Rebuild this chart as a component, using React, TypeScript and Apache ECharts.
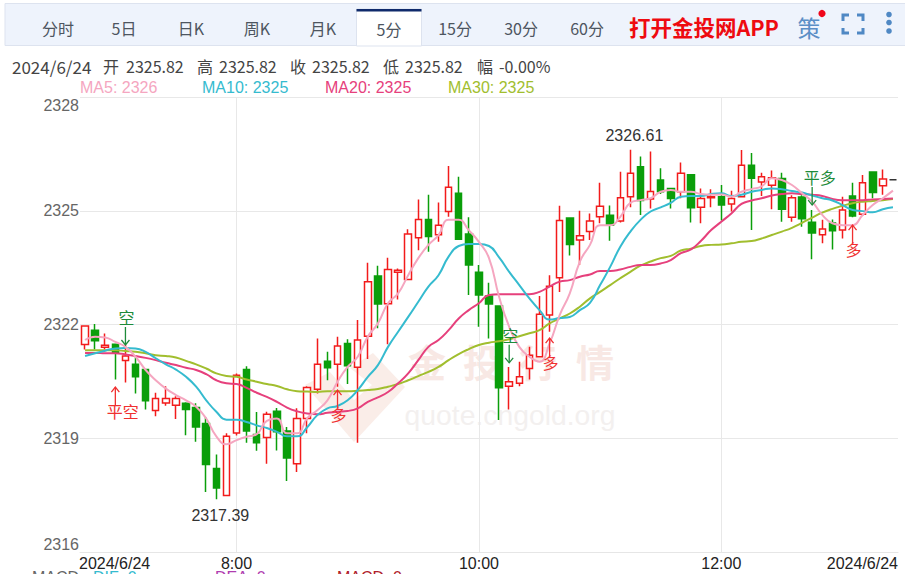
import React, { useEffect, useRef } from "react";
import * as echarts from "echarts";

const categories = [
  "6:45","6:50","6:55","7:00","7:05","7:10","7:15","7:20","7:25","7:30","7:35","7:40","7:45","7:50","7:55",
  "8:00","8:05","8:10","8:15","8:20","8:25","8:30","8:35","8:40","8:45","8:50","8:55","9:00","9:05","9:10","9:15","9:20","9:25","9:30","9:35","9:40","9:45","9:50","9:55",
  "10:00","10:05","10:10","10:15","10:20","10:25","10:30","10:35","10:40","10:45","10:50","10:55","11:00","11:05","11:10","11:15","11:20","11:25","11:30","11:35","11:40","11:45","11:50","11:55",
  "12:00","12:05","12:10","12:15","12:20","12:25","12:30","12:35","12:40","12:45","12:50","12:55","13:00","13:05","13:10","13:15","13:20","13:25",
];
const xTickLabels = ["8:00", "10:00", "12:00"];
const dateLabel = "2024/6/24";

// open, close, low, high
const candles = [
  [2321.47,2321.96,2321.34,2321.98],[2321.85,2321.57,2321.34,2322.01],[2321.40,2321.45,2321.34,2321.76],[2321.48,2321.25,2320.55,2321.50],
  [2321.05,2321.17,2320.47,2321.46],[2320.95,2320.62,2320.18,2321.15],[2320.81,2319.99,2319.76,2320.81],[2319.73,2320.05,2319.58,2320.20],
  [2319.93,2320.05,2319.86,2320.37],[2319.87,2320.05,2319.51,2320.11],[2319.92,2319.76,2319.08,2319.95],[2319.81,2319.30,2318.91,2319.92],
  [2319.39,2318.31,2317.58,2319.56],[2318.20,2317.69,2317.39,2318.57],[2317.49,2319.05,2317.49,2319.13],[2319.14,2320.66,2319.07,2320.71],
  [2320.81,2319.19,2318.88,2320.90],[2319.10,2318.88,2318.67,2319.69],[2319.02,2319.63,2318.33,2319.70],[2319.71,2319.17,2318.68,2319.80],
  [2319.19,2318.48,2317.87,2319.30],[2318.33,2319.52,2318.11,2319.79],[2319.52,2320.34,2319.13,2320.37],[2320.29,2320.95,2320.18,2321.63],
  [2321.03,2320.86,2320.53,2321.28],[2320.95,2321.43,2320.36,2321.68],[2321.50,2320.91,2320.43,2321.61],[2320.87,2321.59,2318.88,2322.12],
  [2321.69,2323.13,2321.09,2323.63],[2323.28,2322.54,2321.90,2323.55],[2322.55,2323.45,2321.48,2323.76],[2323.38,2323.43,2322.66,2323.48],
  [2323.19,2324.39,2323.19,2324.51],[2324.29,2324.77,2323.96,2325.30],[2324.77,2324.32,2323.92,2325.42],[2324.37,2324.62,2324.18,2325.22],
  [2324.98,2325.62,2324.84,2326.18],[2325.46,2324.25,2324.25,2325.90],[2324.39,2323.57,2322.78,2324.83],[2323.38,2322.78,2321.94,2323.57],
  [2322.75,2322.54,2321.63,2323.10],[2322.49,2320.33,2319.48,2322.49],[2320.37,2320.49,2319.76,2320.88],[2320.45,2320.62,2320.37,2321.02],
  [2320.84,2321.19,2320.55,2321.41],[2321.15,2322.27,2321.15,2322.75],[2322.25,2323.01,2321.81,2323.30],[2323.23,2324.74,2322.86,2325.13],
  [2324.81,2324.11,2323.82,2324.81],[2324.23,2324.34,2323.57,2325.00],[2324.45,2324.73,2324.23,2324.93],[2324.84,2325.12,2324.67,2325.74],
  [2324.88,2324.62,2324.21,2325.14],[2324.73,2325.34,2324.69,2326.03],[2325.37,2325.99,2325.09,2326.61],[2326.16,2325.27,2324.89,2326.43],
  [2325.31,2325.51,2325.06,2326.56],[2325.81,2325.50,2325.44,2326.12],[2325.59,2325.32,2325.06,2325.59],[2325.50,2325.99,2325.33,2326.27],
  [2325.95,2325.08,2324.69,2325.95],[2325.09,2325.32,2324.67,2325.59],[2325.34,2325.37,2325.09,2325.57],[2325.37,2325.15,2324.74,2325.68],
  [2325.18,2325.32,2324.98,2325.53],[2325.37,2326.20,2325.37,2326.60],[2326.20,2325.86,2324.49,2326.52],[2325.76,2325.90,2325.39,2326.00],
  [2325.67,2325.87,2325.04,2326.06],[2325.85,2325.04,2324.71,2326.00],[2324.83,2325.34,2324.71,2325.41],[2325.36,2324.79,2324.58,2325.41],
  [2324.70,2324.41,2323.72,2325.02],[2324.37,2324.52,2324.14,2324.76],[2324.68,2324.47,2323.98,2324.77],[2324.49,2325.02,2324.27,2325.37],
  [2325.39,2324.86,2324.83,2325.74],[2324.91,2325.74,2324.86,2325.94],[2326.02,2325.48,2325.33,2326.02],[2325.66,2325.84,2325.42,2326.09],
  [2325.82,2325.82,2325.82,2325.82],
];

const ma5 = [2321.59,2321.68,2321.66,2321.54,2321.41,2321.15,2320.80,2320.53,2320.31,2320.14,2320.00,2319.83,2319.52,2319.05,2318.84,2318.95,2319.04,2319.11,2319.46,2319.52,2319.13,2319.13,2319.53,2319.74,2320.00,2320.49,2320.88,2321.15,2321.68,2322.03,2322.56,2322.82,2323.30,2323.75,2324.10,2324.36,2324.76,2324.76,2324.49,2324.18,2323.75,2322.73,2321.94,2321.41,2321.15,2321.02,2321.50,2322.25,2322.82,2323.66,2324.10,2324.62,2324.62,2324.84,2325.21,2325.28,2325.33,2325.50,2325.55,2325.50,2325.50,2325.44,2325.42,2325.43,2325.37,2325.50,2325.57,2325.64,2325.86,2325.81,2325.68,2325.46,2325.24,2324.89,2324.67,2324.62,2324.62,2324.89,2325.15,2325.33,2325.53];
const ma10 = [2321.17,2321.24,2321.31,2321.37,2321.38,2321.37,2321.28,2321.11,2320.95,2320.81,2320.62,2320.36,2320.00,2319.70,2319.49,2319.49,2319.43,2319.34,2319.27,2319.17,2319.05,2319.05,2319.29,2319.61,2319.79,2319.85,2320.00,2320.27,2320.62,2320.93,2321.41,2321.81,2322.20,2322.60,2323.00,2323.30,2323.79,2324.07,2324.12,2324.12,2324.07,2323.77,2323.39,2323.04,2322.69,2322.38,2322.13,2322.17,2322.20,2322.38,2322.57,2323.04,2323.52,2324.05,2324.45,2324.76,2324.98,2325.09,2325.21,2325.37,2325.39,2325.39,2325.44,2325.46,2325.39,2325.42,2325.50,2325.55,2325.59,2325.57,2325.52,2325.48,2325.40,2325.33,2325.27,2325.15,2325.02,2324.99,2324.96,2325.04,2325.09];
const ma20 = [2321.25,2321.25,2321.24,2321.24,2321.21,2321.17,2321.12,2321.06,2320.99,2320.93,2320.86,2320.80,2320.69,2320.53,2320.45,2320.43,2320.33,2320.20,2320.09,2319.96,2319.81,2319.71,2319.65,2319.63,2319.67,2319.70,2319.72,2319.79,2319.96,2320.08,2320.22,2320.45,2320.71,2321.06,2321.41,2321.59,2321.85,2322.16,2322.38,2322.56,2322.78,2322.80,2322.80,2322.80,2322.80,2322.86,2323.00,2323.13,2323.17,2323.26,2323.32,2323.41,2323.41,2323.45,2323.52,2323.57,2323.57,2323.61,2323.70,2323.88,2323.98,2324.21,2324.49,2324.71,2324.93,2325.18,2325.27,2325.33,2325.40,2325.44,2325.46,2325.44,2325.42,2325.39,2325.31,2325.28,2325.28,2325.28,2325.30,2325.31,2325.32];
const ma30 = [2321.32,2321.32,2321.32,2321.32,2321.30,2321.28,2321.24,2321.19,2321.17,2321.13,2321.04,2320.95,2320.84,2320.71,2320.64,2320.62,2320.55,2320.49,2320.43,2320.38,2320.29,2320.24,2320.23,2320.22,2320.24,2320.24,2320.24,2320.25,2320.27,2320.30,2320.36,2320.43,2320.53,2320.64,2320.75,2320.88,2321.06,2321.22,2321.35,2321.46,2321.52,2321.56,2321.61,2321.69,2321.77,2321.85,2322.03,2322.16,2322.29,2322.47,2322.69,2322.86,2323.04,2323.22,2323.39,2323.55,2323.66,2323.75,2323.81,2323.95,2324.00,2324.07,2324.10,2324.11,2324.14,2324.18,2324.20,2324.27,2324.36,2324.45,2324.55,2324.68,2324.82,2324.95,2325.05,2325.13,2325.20,2325.24,2325.26,2325.28,2325.31];

// category index, arrow-tip value, label, direction
const signals: [number, number, string, string][] = [
  [4, 2321.46, "空", "down"],
  [3, 2320.35, "平空", "up"],
  [25, 2320.27, "多", "up"],
  [42, 2320.99, "空", "down"],
  [46, 2321.64, "多", "up"],
  [72, 2325.15, "平多", "down"],
  [76, 2324.62, "多", "up"],
];

const tabs = ["分时", "5日", "日K", "周K", "月K", "5分", "15分", "30分", "60分"];
const infoParts = ["2024/6/24", "开", "2325.82", "高", "2325.82", "收", "2325.82", "低", "2325.82", "幅", "-0.00%"];
const maLegend = ["MA5: 2326", "MA10: 2325", "MA20: 2325", "MA30: 2325"];
const macdParts = ["MACD:", "DIF: 0", "DEA: 0", "MACD: 0"];

const C_RED = "#F21B1B";
const C_GREEN = "#0A9E0A";
const MA_COLORS = ["#F5A6C0", "#35BBCF", "#E6407C", "#A1BE2E"];
const ARIAL = '"Liberation Sans", Arial, sans-serif';
const CJK = '"Noto Sans CJK SC", sans-serif';

function txt(x: number, y: number, text: string, fill: string, font: string, align = "left", z = 5) {
  return {
    type: "text", x, y, z, silent: true,
    style: { text, fill, font, textAlign: align, textVerticalAlign: "middle", align, verticalAlign: "middle" },
  };
}

function buildGraphic() {
  const els: any[] = [];
  // watermark
  els.push({ type: "polygon", z: 0, silent: true, shape: { points: [[373, 353], [405, 387], [354, 442], [305, 385], [330, 372], [354, 400], [372, 385], [350, 368]] }, style: { fill: "#FAEDE8" } });
  ["金", "投", "行", "情"].forEach((c, i) => els.push(txt([427, 482, 538, 595][i], 360, c, "#F8E8E4", `bold 38px ${CJK}`, "center", 0)));
  els.push(txt(510, 415, "quote.cngold.org", "#F3F0EF", `28.3px ${ARIAL}`, "center", 0));
  // tool bar
  els.push({ type: "rect", z: 1, silent: true, shape: { x: 5, y: 3.5, width: 905, height: 42 }, style: { fill: "#EEF3FC", stroke: "#DDE3EF", lineWidth: 1 } });
  els.push({ type: "rect", z: 2, silent: true, shape: { x: 356.5, y: 9, width: 65, height: 37 }, style: { fill: "#FFFFFF", stroke: "#DDE3EF", lineWidth: 1 } });
  els.push({ type: "rect", z: 3, silent: true, shape: { x: 356.5, y: 9, width: 65, height: 2.5 }, style: { fill: "#0F2A6B" } });
  const tabX = [58, 124, 191, 257, 323, 389, 455, 521, 587];
  tabs.forEach((t, i) => els.push(txt(tabX[i], i === 5 ? 29 : 27.5, t, "#4D5560", `16px ${CJK}`, "center")));
  els.push(txt(629, 26, "打开金投网APP", "#EE0A10", `bold 21.5px ${CJK}`));
  els.push(txt(809, 27, "策", "#5B8EC6", `23px ${CJK}`, "center"));
  els.push({ type: "circle", z: 5, silent: true, shape: { cx: 822, cy: 13.5, r: 3.6 }, style: { fill: "#F0061A" } });
  const icon = { stroke: "#4F88C4", lineWidth: 3, fill: "none" };
  [[[849, 15], [843, 15], [843, 21]], [[857, 15], [863, 15], [863, 21]], [[843, 28], [843, 33], [849, 33]], [[863, 28], [863, 33], [857, 33]]].forEach((points) =>
    els.push({ type: "polyline", z: 5, silent: true, shape: { points }, style: icon }));
  [14.5, 22.5, 31].forEach((cy) => els.push({ type: "circle", z: 5, silent: true, shape: { cx: 889, cy, r: 2.8 }, style: { fill: "#4F88C4" } }));
  // info line
  const infoX = [12, 103, 126, 197, 219, 290, 312, 383, 405, 477, 499];
  infoParts.forEach((t, i) => els.push(txt(infoX[i], 66, t, "#444444", `${i === 0 ? 17 : 16}px ${CJK}`)));
  // ma legend
  const maX = [80, 202, 325, 448];
  maLegend.forEach((t, i) => els.push(txt(maX[i], 87.5, t, MA_COLORS[i], `16px ${ARIAL}`)));
  // date end labels
  els.push(txt(79, 563, dateLabel, "#222222", `16px ${ARIAL}`));
  els.push(txt(898, 563, dateLabel, "#222222", `16px ${ARIAL}`, "right"));
  // clipped macd line
  const macdX = [32, 93, 215, 337];
  const macdC = ["#666666", "#35BBCF", "#B03DB0", "#B0202A"];
  macdParts.forEach((t, i) => els.push(txt(macdX[i], 577.5, t, macdC[i], `16px ${ARIAL}`)));
  return els;
}

function renderSignal(params: any, api: any) {
  const idx = api.value(0);
  const val = api.value(1);
  const s = signals[params.dataIndex];
  const label = s[2];
  const dir = s[3];
  const [x, y] = api.coord([idx, val]);
  const color = dir === "up" ? "#F03030" : "#1E8B3A";
  const sign = dir === "up" ? 1 : -1;
  const dx = label.length === 2 ? 7.5 : 1;
  return {
    type: "group",
    children: [
      { type: "line", shape: { x1: x, y1: y, x2: x, y2: y + sign * 18 }, style: { stroke: color, lineWidth: 1.3 } },
      { type: "polyline", shape: { points: [[x - 4, y + sign * 5], [x, y], [x + 4, y + sign * 5]] }, style: { stroke: color, lineWidth: 1.3, fill: "none" } },
      { type: "text", x: x + dx, y: y + sign * (dir === "up" ? 24 : 28), style: { text: label, fill: color, font: `16px ${CJK}`, textAlign: "center", textVerticalAlign: "middle", align: "center", verticalAlign: "middle" } },
    ],
  };
}

export default function App() {
  const ref = useRef<HTMLDivElement>(null);
  useEffect(() => {
    if (!ref.current) return;
    document.body.style.margin = "0";
    const chart = echarts.init(ref.current, undefined, { renderer: "svg" });
    const lineSeries = (name: string, data: number[], color: string) => ({
      name, type: "line", data, smooth: 0.5, showSymbol: false, symbol: "none", z: 4,
      lineStyle: { color, width: 2 }, silent: true,
    });
    chart.setOption({
      animation: false,
      backgroundColor: "#FFFFFF",
      grid: { left: 80, top: 97, width: 818, height: 455, containLabel: false },
      xAxis: {
        type: "category", data: categories, boundaryGap: true,
        axisLine: { show: true, lineStyle: { color: "#E6E6E6" } },
        axisTick: { show: false, alignWithLabel: true },
        axisLabel: {
          color: "#222222", fontSize: 16, fontFamily: ARIAL, margin: 3, hideOverlap: false,
          interval: (_i: number, v: string) => xTickLabels.includes(v),
        },
        splitLine: {
          show: true, alignWithLabel: true, lineStyle: { color: "#E8E8E8", width: 1 },
          interval: (_i: number, v: string) => xTickLabels.includes(v),
        },
      },
      yAxis: {
        type: "value", min: 2316, max: 2328, interval: 3, scale: true,
        axisLine: { show: false }, axisTick: { show: false },
        axisLabel: { color: "#666666", fontSize: 16, fontFamily: ARIAL, margin: 1, formatter: (v: number) => String(v), verticalAlignMinLabel: "bottom", verticalAlignMaxLabel: "top" },
        splitLine: { show: true, lineStyle: { color: "#E8E8E8", width: 1 } },
      },
      series: [
        {
          type: "candlestick", data: candles, barWidth: 7, z: 3, silent: true,
          itemStyle: { color: "#FFFFFF", color0: C_GREEN, borderColor: C_RED, borderColor0: C_GREEN, borderColorDoji: "#333333", borderWidth: 1.5 },
          markPoint: {
            silent: true, symbol: "circle", symbolSize: 0,
            data: [
              { coord: [categories[54], 2326.61], symbolSize: 0, label: { show: true, formatter: "2326.61", position: "top", offset: [4, -1], color: "#333333", fontSize: 16, fontFamily: ARIAL } },
              { coord: [categories[13], 2317.39], symbolSize: 0, label: { show: true, formatter: "2317.39", position: "bottom", offset: [4, 3], color: "#333333", fontSize: 16, fontFamily: ARIAL } },
            ],
          },
        },
        lineSeries("MA30", ma30, MA_COLORS[3]),
        lineSeries("MA20", ma20, MA_COLORS[2]),
        lineSeries("MA10", ma10, MA_COLORS[1]),
        lineSeries("MA5", ma5, MA_COLORS[0]),
        {
          type: "custom", renderItem: renderSignal, z: 6, silent: true, clip: false,
          encode: { x: 0, y: 1 },
          data: signals.map((s) => [s[0], s[1]]),
        },
      ],
      graphic: { elements: buildGraphic() },
    });
    return () => chart.dispose();
  }, []);
  return <div ref={ref} style={{ position: "fixed", left: 0, top: 0, width: 905, height: 574, overflow: "hidden" }} />;
}
